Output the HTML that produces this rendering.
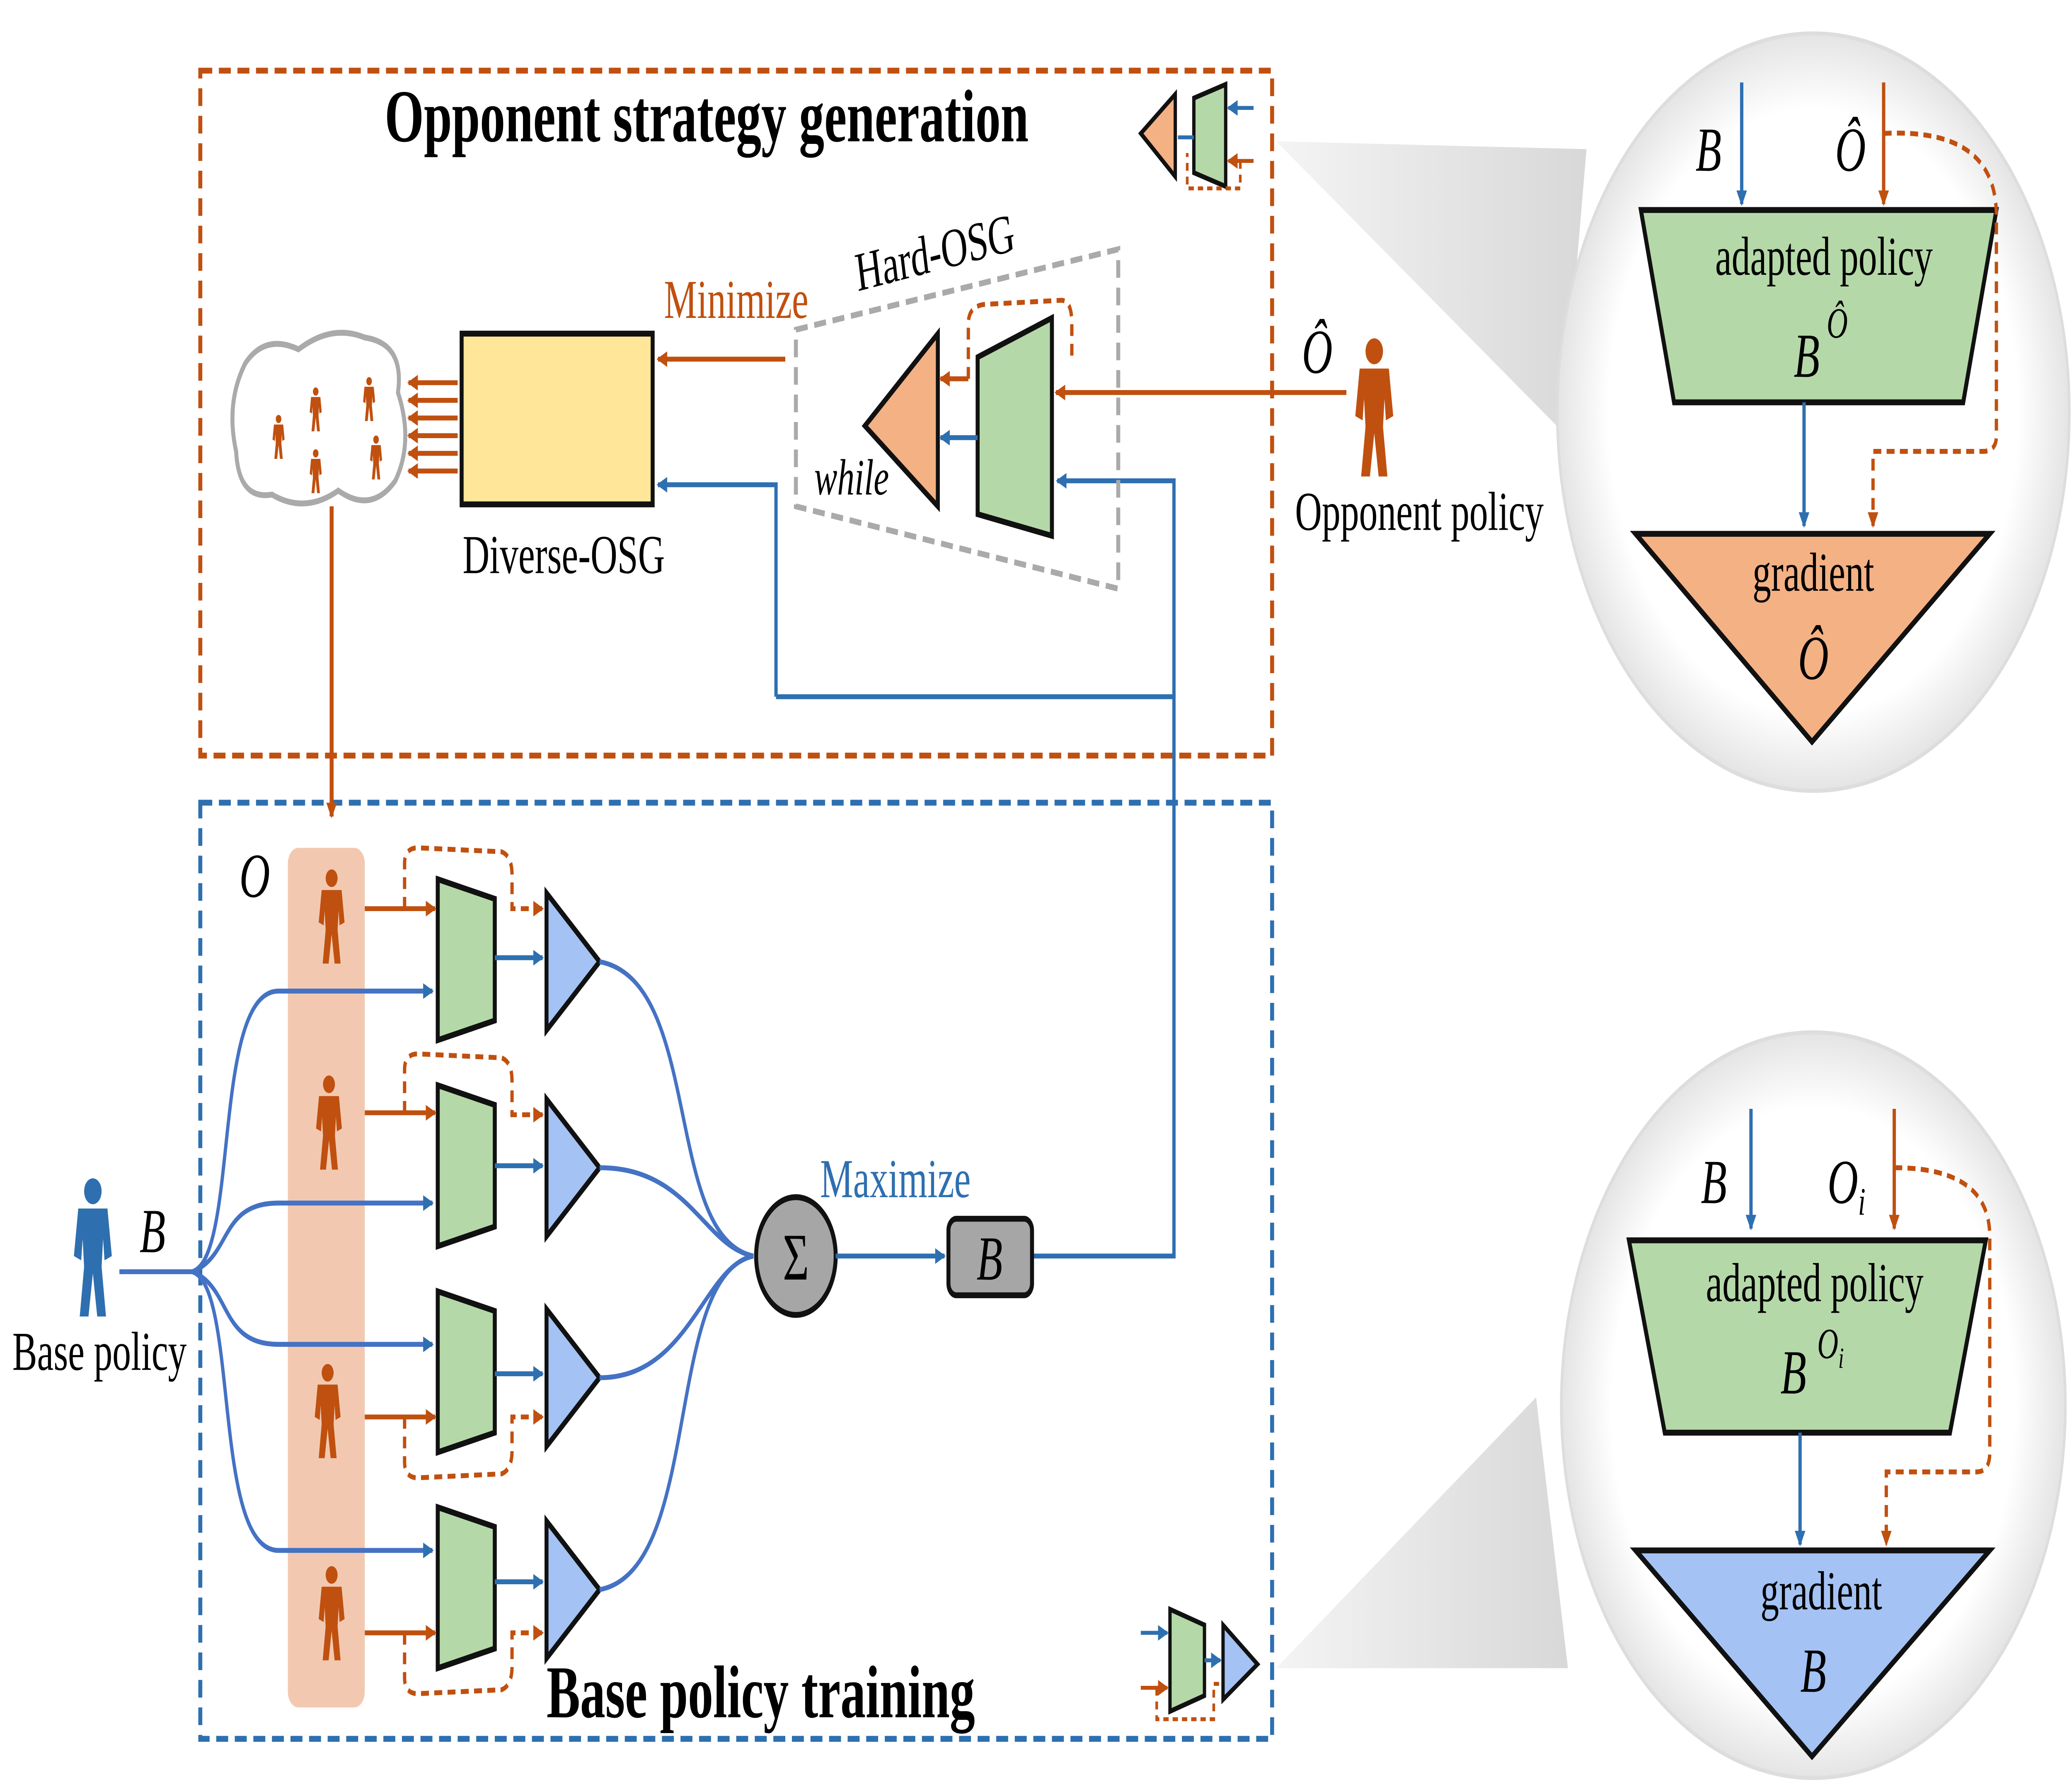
<!DOCTYPE html>
<html><head><meta charset="utf-8"><style>
html,body{margin:0;padding:0;background:#fff;width:100vw;height:100vh;overflow:hidden}
svg{display:block;width:100vw;height:100vh;position:absolute;left:0;top:0}
</style></head>
<body>
<svg viewBox="0 0 1562 908" preserveAspectRatio="none" xmlns="http://www.w3.org/2000/svg" font-family="Liberation Serif, serif">
<defs>
<marker id="ao" markerWidth="8" markerHeight="8" refX="7" refY="4" orient="auto" markerUnits="userSpaceOnUse"><path d="M0,0 L8,4 L0,8 z" fill="#c0500f"/></marker>
<marker id="ab" markerWidth="8" markerHeight="8" refX="7" refY="4" orient="auto" markerUnits="userSpaceOnUse"><path d="M0,0 L8,4 L0,8 z" fill="#2e6fb0"/></marker>
<radialGradient id="cg" cx="0.5" cy="0.5" r="0.5"><stop offset="0.8" stop-color="#ffffff"/><stop offset="1" stop-color="#e4e4e4"/></radialGradient>
<linearGradient id="cone" x1="0" x2="1"><stop offset="0" stop-color="#f4f4f4"/><stop offset="1" stop-color="#d8d8d8"/></linearGradient>
<g id="fig"><circle cx="0" cy="-30" r="6"/><path d="M-10,-22 L10,-22 L13,0 L8,2 L7,-8 L6,5 L9,28 L3,28 L0,8 L-3,28 L-9,28 L-6,5 L-7,-8 L-8,2 L-13,0 z"/></g>
</defs>
<g transform="scale(1)">
<rect width="1562" height="908" fill="#fff"/>
<polygon points="962,72 1196,76 1178,220" fill="url(#cone)"/>
<polygon points="962,850 1158,712 1182,850" fill="url(#cone)"/>
<circle cx="1367" cy="210" r="193" fill="url(#cg)" stroke="#ddd" stroke-width="2"/>
<circle cx="1367" cy="716" r="190" fill="url(#cg)" stroke="#ddd" stroke-width="2"/>
<polygon points="1237,107 1505,107 1480,205 1262,205" fill="#b5d8a8" stroke="#111" stroke-width="3"/>
<polygon points="1233,272 1500,272 1366,378" fill="#f4b183" stroke="#111" stroke-width="3"/>
<text x="1375" y="140" font-size="28" text-anchor="middle">adapted policy</text>
<text x="1362" y="192" font-size="32" font-style="italic" text-anchor="middle">B</text><text x="1385" y="172" font-size="22" font-style="italic" text-anchor="middle">Ô</text>
<text x="1367" y="301" font-size="28" text-anchor="middle">gradient</text>
<text x="1367" y="346" font-size="32" font-style="italic" text-anchor="middle">Ô</text>
<text x="1288" y="87" font-size="32" font-style="italic" text-anchor="middle">B</text>
<text x="1395" y="87" font-size="32" font-style="italic" text-anchor="middle">Ô</text>
<line x1="1313" y1="42" x2="1313" y2="104" stroke="#2e6fb0" stroke-width="2.5" marker-end="url(#ab)"/>
<line x1="1420" y1="42" x2="1420" y2="104" stroke="#c0500f" stroke-width="2.5" marker-end="url(#ao)"/>
<path d="M1420,68 Q1505,65 1505,110 L1505,222 Q1505,230 1495,230 L1412,230 L1412,268" fill="none" stroke="#c0500f" stroke-width="2.5" stroke-dasharray="6,4" marker-end="url(#ao)"/>
<line x1="1360" y1="205" x2="1360" y2="268" stroke="#2e6fb0" stroke-width="2.5" marker-end="url(#ab)"/>
<polygon points="1228,632 1497,632 1470,730 1255,730" fill="#b5d8a8" stroke="#111" stroke-width="3"/>
<polygon points="1233,790 1500,790 1366,895" fill="#a4c2f4" stroke="#111" stroke-width="3"/>
<text x="1368" y="663" font-size="28" text-anchor="middle">adapted policy</text>
<text x="1352" y="710" font-size="32" font-style="italic" text-anchor="middle">B</text><text x="1380" y="692" font-size="22" font-style="italic" text-anchor="middle">O<tspan font-size="15" dy="5">i</tspan></text>
<text x="1373" y="820" font-size="28" text-anchor="middle">gradient</text>
<text x="1367" y="862" font-size="32" font-style="italic" text-anchor="middle">B</text>
<text x="1292" y="613" font-size="32" font-style="italic" text-anchor="middle">B</text>
<text x="1392" y="613" font-size="32" font-style="italic" text-anchor="middle">O<tspan font-size="20" dy="6">i</tspan></text>
<line x1="1320" y1="565" x2="1320" y2="626" stroke="#2e6fb0" stroke-width="2.5" marker-end="url(#ab)"/>
<line x1="1428" y1="565" x2="1428" y2="626" stroke="#c0500f" stroke-width="2.5" marker-end="url(#ao)"/>
<path d="M1428,595 Q1500,595 1500,630 L1500,740 Q1500,750 1490,750 L1422,750 L1422,787" fill="none" stroke="#c0500f" stroke-width="2.5" stroke-dasharray="6,4" marker-end="url(#ao)"/>
<line x1="1357" y1="730" x2="1357" y2="787" stroke="#2e6fb0" stroke-width="2.5" marker-end="url(#ab)"/>
<rect x="151" y="36" width="808" height="349" fill="none" stroke="#c0500f" stroke-width="3" stroke-dasharray="9,5"/>
<rect x="151" y="409" width="808" height="477" fill="none" stroke="#2e6fb0" stroke-width="3" stroke-dasharray="9,5"/>
<text x="290" y="72" font-size="38" font-weight="bold">Opponent strategy generation</text>
<text x="412" y="875" font-size="38" font-weight="bold">Base policy training</text>
<polygon points="860,68 886,48 886,90" fill="#f4b183" stroke="#111" stroke-width="2.5"/>
<polygon points="900,50 924,43 924,95 900,88" fill="#b5d8a8" stroke="#111" stroke-width="2.5"/>
<line x1="945" y1="55" x2="926" y2="55" stroke="#2e6fb0" stroke-width="2" marker-end="url(#ab)"/>
<line x1="945" y1="82" x2="926" y2="82" stroke="#c0500f" stroke-width="2" marker-end="url(#ao)"/>
<line x1="900" y1="70" x2="888" y2="70" stroke="#2e6fb0" stroke-width="2"/>
<path d="M935,82 L935,96 L895,96 L895,78" fill="none" stroke="#c0500f" stroke-width="2" stroke-dasharray="4,3"/>
<path d="M185,185 Q200,170 225,178 Q250,165 275,172 Q305,175 300,200 Q312,225 298,245 Q280,262 255,250 Q230,262 205,252 Q180,255 178,230 Q170,205 185,185 z" fill="#fff" stroke="#aaa" stroke-width="3"/>
<g fill="#c0500f" transform="scale(0.35)"><use href="#fig" x="600" y="640"/><use href="#fig" x="680" y="600"/><use href="#fig" x="795" y="585"/><use href="#fig" x="680" y="690"/><use href="#fig" x="810" y="670"/></g>
<g stroke="#c0500f" stroke-width="2.5" marker-end="url(#ao)">
<line x1="345" y1="195" x2="308" y2="195"/><line x1="345" y1="204" x2="308" y2="204"/><line x1="345" y1="213" x2="308" y2="213"/><line x1="345" y1="222" x2="308" y2="222"/><line x1="345" y1="231" x2="308" y2="231"/><line x1="345" y1="240" x2="308" y2="240"/>
</g>
<line x1="250" y1="258" x2="250" y2="416" stroke="#c0500f" stroke-width="3" marker-end="url(#ao)"/>
<rect x="348" y="170" width="144" height="87" fill="#ffe699" stroke="#111" stroke-width="3"/>
<text x="425" y="292" font-size="28" text-anchor="middle">Diverse-OSG</text>
<text x="555" y="162" font-size="28" fill="#c0500f" text-anchor="middle">Minimize</text>
<line x1="592" y1="183" x2="496" y2="183" stroke="#c0500f" stroke-width="2.5" marker-end="url(#ao)"/>
<polyline points="585,355 585,247 496,247" fill="none" stroke="#2e6fb0" stroke-width="2.5" marker-end="url(#ab)"/>
<polyline points="585,355 885,355 885,640 778,640" fill="none" stroke="#2e6fb0" stroke-width="2.5"/>
<polyline points="885,355 885,245 797,245" fill="none" stroke="#2e6fb0" stroke-width="2.5" marker-end="url(#ab)"/>
<polygon points="600,168 843,127 843,300 600,258" fill="none" stroke="#aaa" stroke-width="3" stroke-dasharray="9,5"/>
<text x="705" y="138" font-size="28" text-anchor="middle" transform="rotate(-10 705 130)">Hard-OSG</text>
<text x="642" y="252" font-size="26" font-style="italic" text-anchor="middle">while</text>
<polygon points="652,217 707,170 707,258" fill="#f4b183" stroke="#111" stroke-width="3"/>
<polygon points="737,182 793,162 793,273 737,262" fill="#b5d8a8" stroke="#111" stroke-width="3"/>
<line x1="737" y1="223" x2="709" y2="223" stroke="#2e6fb0" stroke-width="2.5" marker-end="url(#ab)"/>
<line x1="1015" y1="200" x2="796" y2="200" stroke="#c0500f" stroke-width="2.5" marker-end="url(#ao)"/>
<path d="M730,193 L730,165 Q730,155 745,155 L800,153 Q808,153 808,165 L808,185" fill="none" stroke="#c0500f" stroke-width="2.5" stroke-dasharray="6,4"/>
<line x1="730" y1="193" x2="709" y2="193" stroke="#c0500f" stroke-width="2.5" marker-end="url(#ao)"/>
<g fill="#c0500f" transform="translate(1036,212) scale(1.1)"><use href="#fig"/></g>
<text x="993" y="190" font-size="32" font-style="italic" text-anchor="middle">Ô</text>
<text x="1070" y="270" font-size="28" text-anchor="middle">Opponent policy</text>
<rect x="217" y="432" width="58" height="438" rx="8" fill="#f2c9b0"/>
<text x="192" y="457" font-size="32" font-style="italic" text-anchor="middle">O</text>
<g fill="#c0500f"><use href="#fig" transform="translate(250,470) scale(0.75)"/><use href="#fig" transform="translate(248,575) scale(0.75)"/><use href="#fig" transform="translate(247,722) scale(0.75)"/><use href="#fig" transform="translate(250,825) scale(0.75)"/></g>
<g fill="#2e6fb0" transform="translate(70,640) scale(1.1)"><use href="#fig"/></g>
<text x="115" y="638" font-size="32" font-style="italic" text-anchor="middle">B</text>
<text x="75" y="698" font-size="28" text-anchor="middle">Base policy</text>
<g stroke="#111" stroke-width="3">
<polygon points="330,448 373,458 373,520 330,530" fill="#b5d8a8"/><polygon points="412,455 452,490 412,525" fill="#a4c2f4"/>
<polygon points="330,553 373,563 373,625 330,635" fill="#b5d8a8"/><polygon points="412,560 452,595 412,630" fill="#a4c2f4"/>
<polygon points="330,658 373,668 373,730 330,740" fill="#b5d8a8"/><polygon points="412,667 452,702 412,737" fill="#a4c2f4"/>
<polygon points="330,768 373,778 373,840 330,850" fill="#b5d8a8"/><polygon points="412,775 452,810 412,845" fill="#a4c2f4"/>
</g>
<g stroke="#c0500f" stroke-width="2.5" marker-end="url(#ao)">
<line x1="275" y1="463" x2="328" y2="463"/><line x1="275" y1="567" x2="328" y2="567"/><line x1="275" y1="722" x2="328" y2="722"/><line x1="275" y1="832" x2="328" y2="832"/>
</g>
<g stroke="#c0500f" stroke-width="2.5" fill="none" stroke-dasharray="6,4" marker-end="url(#ao)">
<path d="M305,463 L305,440 Q305,432 315,432 L378,434 Q386,436 386,446 L386,463 L409,463"/>
<path d="M305,567 L305,545 Q305,537 315,537 L378,539 Q386,541 386,551 L386,568 L409,568"/>
<path d="M305,722 L305,745 Q305,753 315,753 L378,751 Q386,749 386,739 L386,722 L409,722"/>
<path d="M305,832 L305,855 Q305,863 315,863 L378,861 Q386,859 386,849 L386,832 L409,832"/>
</g>
<g stroke="#2e6fb0" stroke-width="2.5" marker-end="url(#ab)">
<line x1="373" y1="488" x2="409" y2="488"/><line x1="373" y1="594" x2="409" y2="594"/><line x1="373" y1="700" x2="409" y2="700"/><line x1="373" y1="806" x2="409" y2="806"/>
</g>
<g stroke="#4472c4" stroke-width="2.5" fill="none">
<path d="M90,648 L145,648"/>
<path d="M145,648 C180,640 160,505 210,505 L326,505" marker-end="url(#ab)"/>
<path d="M145,648 C175,640 165,613 210,613 L326,613" marker-end="url(#ab)"/>
<path d="M145,648 C175,656 165,685 210,685 L326,685" marker-end="url(#ab)"/>
<path d="M145,648 C180,656 160,790 210,790 L326,790" marker-end="url(#ab)"/>
<path d="M452,490 C530,500 500,630 568,640"/>
<path d="M452,595 C520,595 530,635 568,640"/>
<path d="M452,702 C520,702 530,645 568,640"/>
<path d="M452,810 C530,800 500,650 568,640"/>
</g>
<circle cx="600" cy="640" r="30" fill="#a6a6a6" stroke="#111" stroke-width="3"/>
<text x="600" y="652" font-size="34" text-anchor="middle">Σ</text>
<text x="675" y="610" font-size="28" fill="#2e6fb0" text-anchor="middle">Maximize</text>
<line x1="630" y1="640" x2="712" y2="640" stroke="#2e6fb0" stroke-width="2.5" marker-end="url(#ab)"/>
<rect x="715" y="621" width="63" height="39" rx="6" fill="#a6a6a6" stroke="#111" stroke-width="3"/>
<text x="746" y="652" font-size="32" font-style="italic" text-anchor="middle">B</text>
<polygon points="882,820 908,828 908,864 882,872" fill="#b5d8a8" stroke="#111" stroke-width="2.5"/>
<polygon points="922,828 948,848 922,866" fill="#a4c2f4" stroke="#111" stroke-width="2.5"/>
<line x1="860" y1="832" x2="880" y2="832" stroke="#2e6fb0" stroke-width="2" marker-end="url(#ab)"/>
<line x1="860" y1="860" x2="880" y2="860" stroke="#c0500f" stroke-width="2" marker-end="url(#ao)"/>
<line x1="908" y1="846" x2="920" y2="846" stroke="#2e6fb0" stroke-width="2" marker-end="url(#ab)"/>
<path d="M872,860 L872,876 L915,876 L915,858 L920,858" fill="none" stroke="#c0500f" stroke-width="2" stroke-dasharray="4,3"/>
</g>
</svg>
</body></html>
